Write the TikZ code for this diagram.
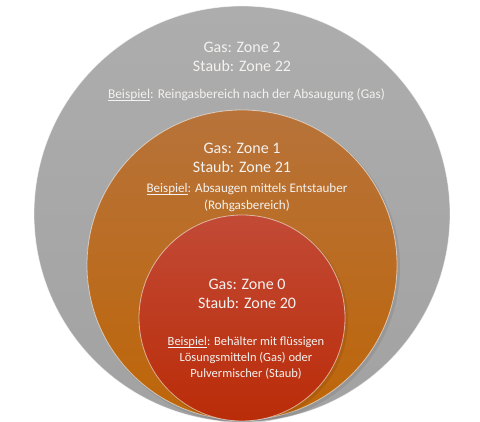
\documentclass[tikz,border=0pt]{standalone}
\usepackage{fontspec}
\setmainfont{Carlito}
\usepackage{xcolor}

\definecolor{zoneTwoTop}{HTML}{ADADAD}
\definecolor{zoneTwoBot}{HTML}{A2A2A2}
\definecolor{zoneOneTop}{HTML}{B7733A}
\definecolor{zoneOneBot}{HTML}{BE6508}
\definecolor{zoneNullTop}{HTML}{C24A36}
\definecolor{zoneNullBot}{HTML}{BA2C08}
\definecolor{zoneText}{HTML}{F4F2F0}

% Unterstreichung knapp unter der Grundlinie
\newcommand\bspword[1]{\setbox0\hbox{#1}\rlap{\rule[-1.6pt]{\wd0}{0.55pt}}\box0}

\begin{document}
\begin{tikzpicture}[x=1pt,y=1pt,
  zonelabel/.style={text=zoneText, align=center, inner sep=0pt,
    font=\fontsize{16}{19}\selectfont},
  examplelabel/.style={text=zoneText, align=center, inner sep=0pt,
    font=\fontsize{12.5}{16}\selectfont},
  rim/.style={draw=white, draw opacity=0.55, line width=0.8pt}]

% ============================================================
% Parameter
% ============================================================

\def\Cx{242}       % gemeinsame Mitte (x)
\def\RTwo{208}     % Radius Zone 2 / 22
\def\ROne{155}     % Radius Zone 1 / 21
\def\RNull{103}    % Radius Zone 0 / 20

\useasboundingbox (0,0) rectangle (480,422);

% ============================================================
% Zone 2 / 22 (aussen)
% ============================================================

\shade[top color=zoneTwoTop, bottom color=zoneTwoBot]
  (\Cx,208) circle (\RTwo);
\draw[rim] (\Cx,208) circle (\RTwo);

\node[zonelabel] (gasTwo) at (\Cx,365.5) {Gas: Zone 2\\Staub: Zone 22};
\node[examplelabel, font=\fontsize{13.4}{16}\selectfont] (bspTwo) at (246.5,327)
  {\bspword{Beispiel}: Reingasbereich nach der Absaugung (Gas)};

% ============================================================
% Zone 1 / 21 (mitte)
% ============================================================

\fill[black, opacity=0.08] (\Cx+2,155) circle (\ROne+1);
\shade[top color=zoneOneTop, bottom color=zoneOneBot]
  (\Cx,157) circle (\ROne);
\draw[rim] (\Cx,157) circle (\ROne);

\node[zonelabel] (gasOne) at (\Cx,264.5) {Gas: Zone 1\\Staub: Zone 21};
\node[examplelabel, font=\fontsize{13.1}{16.5}\selectfont] (bspOne) at (247,224.5)
  {\bspword{Beispiel}: Absaugen mittels Entstauber\\(Rohgasbereich)};

% ============================================================
% Zone 0 / 20 (innen)
% ============================================================

\fill[black, opacity=0.08] (\Cx+2,102) circle (\RNull+1);
\shade[top color=zoneNullTop, bottom color=zoneNullBot]
  (\Cx,104) circle (\RNull);
\draw[rim] (\Cx,104) circle (\RNull);

\node[zonelabel] (gasNull) at (247,128.5) {Gas: Zone 0\\Staub: Zone 20};
\node[examplelabel] (bspNull) at (246,63.5)
  {\bspword{Beispiel}: Behälter mit flüssigen\\Lösungsmitteln (Gas) oder\\Pulvermischer (Staub)};

\end{tikzpicture}
\end{document}
